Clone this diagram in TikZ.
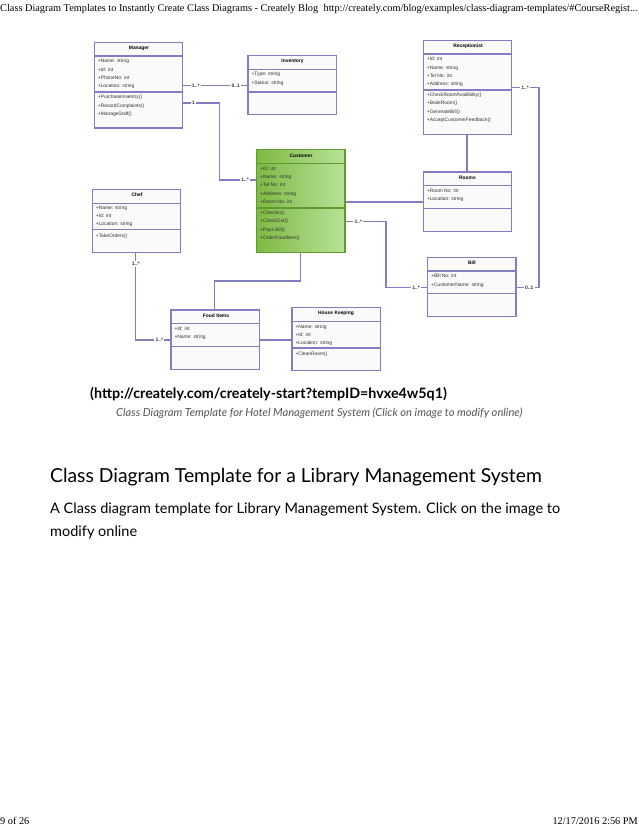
\documentclass[tikz,border=0pt]{standalone}
\usepackage{fontspec}
\setmainfont{Liberation Sans}
\newfontfamily\pagehead{Liberation Serif}
\newfontfamily\webfont{Lato}
\definecolor{umlline}{HTML}{837DC2}
\definecolor{umlfill}{HTML}{FAFAFA}
\definecolor{greenline}{HTML}{5E9C30}
\definecolor{greenleft}{HTML}{7FB944}
\definecolor{greenright}{HTML}{B8E398}
\definecolor{rowgray}{HTML}{333333}
\definecolor{captiongray}{HTML}{555555}
\tikzset{
  umlbox/.style={draw=umlline,fill=umlfill,line width=1.1pt,inner sep=0pt},
  greenbox/.style={draw=greenline,left color=greenleft,right color=greenright,line width=1.1pt,inner sep=0pt},
  rowtext/.style={anchor=west,inner sep=0pt,font=\fontsize{4.9}{5}\selectfont,text=rowgray,text height=3.6pt,text depth=1pt},
  titletext/.style={inner sep=0pt,font=\fontsize{4.9}{5}\selectfont\bfseries,text=black},
  link/.style={draw=umlline,line width=1.1pt},
  multi/.style={inner sep=1pt,font=\fontsize{5}{5}\selectfont\bfseries,text=rowgray},
  printtext/.style={anchor=base west,inner sep=0pt,font=\pagehead\fontsize{10.3}{11}\selectfont,text=black},
  webtext/.style={anchor=base west,inner sep=0pt,text=black},
}
% name, x1, y1, x2, y2, divider1, divider2, unused, box style
\newcommand{\classbox}[9]{%
  \node[#9,minimum width=#4pt-#2pt,minimum height=#5pt-#3pt] (#1) at ({(#2+#4)/2},{(#3+#5)/2}) {};
  \draw[line width=1.1pt,draw=\divcol] (#1.west|-0,#6) -- (#1.east|-0,#6);
  \draw[line width=1.1pt,draw=\divcol] (#1.west|-0,#7) -- (#1.east|-0,#7);
}
\newcommand{\divcol}{umlline}
% name, x, list of y/text
\newcommand{\classrows}[3]{%
  \foreach \yy/\tt [count=\i] in {#3} {\node[rowtext] (#1-\i) at (#2,\yy) {\tt};}
}
\begin{document}
\begin{tikzpicture}[x=1pt,y=-1pt]
\useasboundingbox[fill=white] (0,0) rectangle (638,826);

% classes
\classbox{mgr}{94.5}{42.7}{182.7}{128}{56}{92}{}{umlbox}
\classbox{inv}{248}{55.7}{336.5}{114.7}{69.3}{92}{}{umlbox}
\classbox{chef}{92.3}{189.7}{180.7}{252.7}{203.3}{229.3}{}{umlbox}
\classbox{rec}{423.3}{40.3}{511.7}{134.3}{54}{90}{}{umlbox}
\classbox{room}{423.3}{172}{511.7}{231.3}{185.7}{208.3}{}{umlbox}
\classbox{bill}{427.7}{257.3}{516}{316.7}{271}{293.7}{}{umlbox}
\classbox{food}{171}{310}{259.7}{369.3}{323.7}{346.3}{}{umlbox}
\classbox{house}{292}{307.7}{380.3}{370.7}{321.3}{348}{}{umlbox}
\renewcommand{\divcol}{greenline}
\classbox{cust}{256.7}{149.7}{345}{252.3}{163.7}{208}{}{greenbox}

% titles
\node[titletext] (mgr-t) at (139,48.3) {Manager};
\node[titletext] (inv-t) at (292.5,61.3) {Inventory};
\node[titletext] (cust-t) at (301,155.5) {Customer};
\node[titletext] (chef-t) at (137,195) {Chef};
\node[titletext] (rec-t) at (468,46) {Receptionist};
\node[titletext] (room-t) at (467.5,177.5) {Rooms};
\node[titletext] (bill-t) at (472,263) {Bill};
\node[titletext] (food-t) at (216,315.7) {Food Items};
\node[titletext] (house-t) at (336,313.5) {House Keeping};

% rows
\classrows{mgr}{97.7}{61.7/+Name:  string,70/+Id: int,78.3/+PhoneNo: int,86.7/+Location: string,97.7/+PurchaseInventry(),106/+RecordComplaints(),114.3/+ManageStaff()}
\classrows{inv}{251.3}{74.7/+Type: string,83.3/+Status: string}
\classrows{cust}{260}{169.3/+ID: int,177.6/+Name: string,185.6/+Tel No: int,194/+Address: string,202.3/+Room No: int,213.3/+CheckIn(),221.6/+CheckOut(),230/+Pays Bill(),238/+OrderFoodItem()}
\classrows{chef}{95.7}{208.7/+Name: string,216.3/+Id: int,224.3/+Location: string,235.7/+TakeOrders()}
\classrows{rec}{426.7}{59.3/+Id: int,68/+Name: string,76.3/+Tel No: int,84.3/+Address: string,95.3/+CheckRoomAvailibility(),103.6/+BookRoom(),112/+GenerateBill(),120.3/+AcceptCustomerFeedback()}
\classrows{room}{426.7}{191/+Room No: int,199.3/+Location: string}
\classrows{bill}{431}{276.3/+Bill No: int,285/+CustomerName: string}
\classrows{food}{174.3}{329/+Id: int,337.3/+Name: string}
\classrows{house}{295.3}{327/+Name: string,335/+Id: int,343/+Location: string,353.7/+CleanRoom()}

% multiplicity labels
\node[multi] (m1) at (195.7,85.5) {1..*};
\node[multi] (m2) at (235.7,85.5) {0..1};
\node[multi] (m3) at (193.5,103) {1};
\node[multi] (m4) at (245,180) {1..*};
\node[multi] (m5) at (525,87.7) {1..*};
\node[multi] (m6) at (529.3,287.7) {0..1};
\node[multi] (m7) at (358.3,221.3) {1..*};
\node[multi] (m8) at (416,287.7) {1..*};
\node[multi] (m9) at (135.7,264) {1..*};
\node[multi] (m10) at (159.3,340) {1..*};

% connectors
\draw[link] (mgr.east|-m1) -- (m1);
\draw[link] (m1) -- (m2);
\draw[link] (m2) -- (inv.west|-m2);
\draw[link] (mgr.east|-m3) -- (m3);
\draw[link] (m3) -| (219.3,180) -- (m4);
\draw[link] (m4) -- (cust.west|-m4);
\draw[link] (rec.east|-m5) -- (m5);
\draw[link] (m5) -| (539,287.7) -- (m6);
\draw[link] (m6) -- (bill.east|-m6);
\draw[link] (cust.east|-m7) -- (m7);
\draw[link] (m7) -| (386,287.7) -- (m8);
\draw[link] (m8) -- (bill.west|-m8);
\draw[link] (chef.south-|m9) -- (m9);
\draw[link] (m9) |- (m10);
\draw[link] (m10) -- (food.west|-m10);
\draw[link] (rec.south-|467,0) -- (room.north-|467,0);
\draw[link] (cust.east|-0,202) -- (room.west|-0,202);
\draw[link] (cust.south-|300.3,0) |- (214.7,281) -- (food.north-|214.7,0);
\draw[link] (food.east|-0,340) -- (house.west|-0,340);

% page text
\node[printtext] (head1) at (0,12) {Class Diagram Templates to Instantly Create Class Diagrams - Creately Blog};
\node[printtext] (head2) at (323.5,12) {http://creately.com/blog/examples/class-diagram-templates/\#CourseRegist...};
\node[printtext] (foot1) at (0,824) {9 of 26};
\node[printtext,anchor=base east] (foot2) at (638,824) {12/17/2016 2:56 PM};
\node[webtext,font=\webfont\fontsize{14.3}{15}\selectfont\bfseries] (url) at (90,398.5) {(http://creately.com/creately-start?tempID=hvxe4w5q1)};
\node[webtext,font=\webfont\fontsize{11.15}{12}\selectfont\itshape,text=captiongray] (caption) at (116,416.5) {Class Diagram Template for Hotel Management System (Click on image to modify online)};
\node[webtext,font=\webfont\fontsize{19.3}{20}\selectfont] (heading) at (50,482) {Class Diagram Template for a Library Management System};
\node[webtext,font=\webfont\fontsize{14.5}{16}\selectfont] (para1) at (50,513) {A Class diagram template for Library Management System. Click on the image to};
\node[webtext,font=\webfont\fontsize{14.5}{16}\selectfont] (para2) at (50,536.5) {modify online};
\end{tikzpicture}
\end{document}
